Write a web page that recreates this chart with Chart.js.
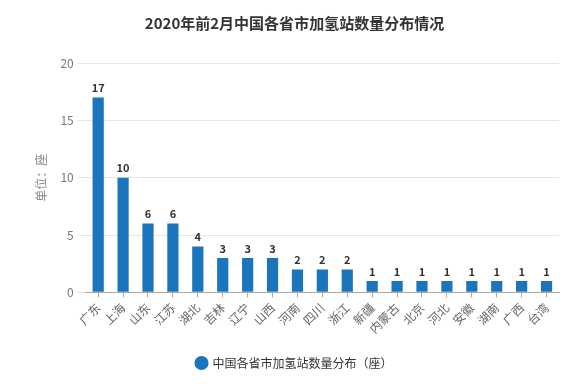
<!DOCTYPE html>
<html>
<head>
<meta charset="utf-8">
<script src="https://cdn.jsdelivr.net/npm/chart.js@4"></script>
<style>
  html, body { margin: 0; padding: 0; background: #fff; }
  #wrap { width: 588px; height: 391px; position: relative; }
</style>
</head>
<body>
<div id="wrap"><canvas id="myChart"></canvas></div>
<script>
const provinces = ['广东', '上海', '山东', '江苏', '湖北', '吉林', '辽宁', '山西', '河南', '四川', '浙江',
  '新疆', '内蒙古', '北京', '河北', '安徽', '湖南', '广西', '台湾'];
const stationCounts = [17, 10, 6, 6, 4, 3, 3, 3, 2, 2, 2, 1, 1, 1, 1, 1, 1, 1, 1];
const yTicks = [0, 5, 10, 15, 20];

const chartTitle = '2020年前2月中国各省市加氢站数量分布情况';
const seriesName = '中国各省市加氢站数量分布（座）';
const fontCJK = '"Noto Sans CJK SC", "Noto Sans", sans-serif';

// values above each bar
const barValues = {
  id: 'barValues',
  afterDatasetsDraw(chart) {
    const ctx = chart.ctx;
    ctx.save();
    ctx.font = 'bold 11px ' + fontCJK;
    ctx.fillStyle = '#333';
    ctx.textAlign = 'center';
    ctx.textBaseline = 'bottom';
    chart.getDatasetMeta(0).data.forEach((bar, i) => {
      ctx.fillText(stationCounts[i], bar.x, bar.y - 4);
    });
    ctx.restore();
  }
};

const ctx1 = document.getElementById('myChart').getContext('2d');
new Chart(ctx1, {
  type: 'bar',
  data: {
    labels: provinces,
    datasets: [{
      label: seriesName,
      data: stationCounts,
      backgroundColor: '#1b75bc',
      barPercentage: 0.9,
      categoryPercentage: 0.5
    }]
  },
  options: {
    responsive: true,
    maintainAspectRatio: false,
    animation: false,
    layout: { padding: { top: 10, right: 29, bottom: 12, left: 30 } },
    plugins: {
      title: {
        display: true,
        text: chartTitle,
        color: '#333',
        font: { family: fontCJK, size: 15, weight: 'bold' },
        padding: { top: 4, bottom: 31 }
      },
      legend: {
        position: 'bottom',
        labels: {
          usePointStyle: true,
          pointStyle: 'circle',
          boxWidth: 10,
          boxHeight: 10,
          color: '#333',
          font: { family: fontCJK, size: 12 },
          padding: 12
        }
      },
      tooltip: { enabled: false }
    },
    scales: {
      x: {
        afterFit(axis) { axis.height += 6; },
        grid: {
          offset: false,
          drawOnChartArea: false,
          drawTicks: true,
          tickLength: 5,
          color: '#aaa'
        },
        border: { color: '#aaa' },
        ticks: {
          color: '#666',
          font: { family: fontCJK, size: 12 },
          maxRotation: 45,
          minRotation: 45,
          autoSkip: false
        }
      },
      y: {
        min: 0,
        max: 20,
        afterBuildTicks(axis) { axis.ticks = yTicks.map(v => ({ value: v })); },
        grid: { color: '#e5e5e5', tickLength: 8 },
        border: { display: false },
        ticks: { color: '#777', font: { family: fontCJK, size: 12 }, padding: 4 },
        title: {
          display: true,
          text: '单位：座',
          color: '#888',
          font: { family: fontCJK, size: 12 },
          padding: { bottom: 8 }
        }
      }
    }
  },
  plugins: [barValues]
});
</script>
</body>
</html>
